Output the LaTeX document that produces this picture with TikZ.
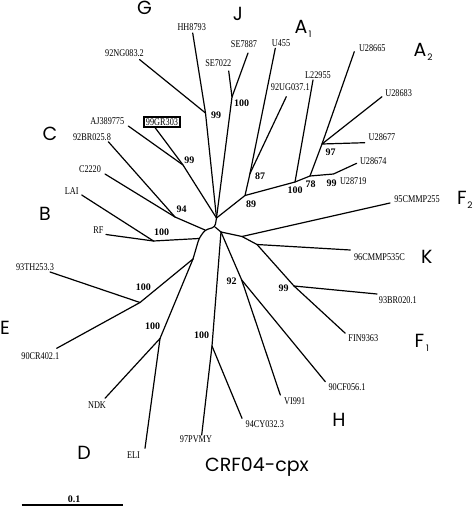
\documentclass[tikz,border=0pt]{standalone}
\usepackage{fontspec}
\setmainfont{Liberation Serif}
\newfontfamily\labfont[FakeStretch=0.8]{Liberation Serif}
\newfontfamily\cladefont{Poppins}
\begin{document}
\begin{tikzpicture}[x=1pt,y=-1pt,
  br/.style={line width=1.2pt, line cap=round, line join=round},
  leaf/.style={font=\labfont\fontsize{10.3}{10.3}\selectfont, inner sep=0pt},
  boot/.style={font=\bfseries\fontsize{10}{10}\selectfont, inner sep=0pt},
  clade/.style={font=\cladefont\fontsize{19}{19}\selectfont, inner sep=0pt},
  sub/.style={font=\cladefont\fontsize{9}{9}\selectfont, inner sep=0pt},
  boxed/.style={leaf, draw, line width=1.8pt, inner xsep=2pt, inner ysep=1.5pt}]
\useasboundingbox (0,0) rectangle (474,506);
% internal nodes
\coordinate (c1) at (216.5,218);
\coordinate (c2) at (215,227);
\coordinate (cL1) at (205,230);
\coordinate (cL2) at (199,238.5);
\coordinate (cDE) at (193,259);
\coordinate (cR) at (221,232);
\coordinate (nG) at (205.5,113);
\coordinate (nJ) at (232,97);
\coordinate (nC) at (183,165);
\coordinate (n94) at (175,217);
\coordinate (n89) at (245,195.5);
\coordinate (n87) at (250,173.5);
\coordinate (n100a) at (295,182);
\coordinate (n78) at (310,176);
\coordinate (n97) at (322,144);
\coordinate (n99a) at (333.5,174);
\coordinate (nB) at (153.5,241);
\coordinate (nE) at (140,302.5);
\coordinate (nD) at (160,338.5);
\coordinate (nH1) at (212,346);
\coordinate (nH2) at (241.7,280);
\coordinate (nF2) at (242,236.5);
\coordinate (nK) at (257,244.5);
\coordinate (nF1) at (294,286);
% tips
\coordinate (tHH) at (192.7,33);
\coordinate (tNG) at (139.5,59.5);
\coordinate (tSE87) at (248,53);
\coordinate (tSE22) at (228.7,71);
\coordinate (tAJ) at (128.3,126);
\coordinate (tGR) at (155,127.5);
\coordinate (tBR) at (108.3,141.7);
\coordinate (tC22) at (105,174);
\coordinate (tU455) at (275.3,48.3);
\coordinate (tUG) at (286.3,96.7);
\coordinate (tL22) at (313,80);
\coordinate (tU65) at (354.3,51.7);
\coordinate (tU83) at (382,96.7);
\coordinate (tU77) at (364.7,142.7);
\coordinate (tU74) at (356.7,163.3);
\coordinate (tRF) at (106,234.5);
\coordinate (tLAI) at (81.7,195);
\coordinate (tTH) at (50,272);
\coordinate (tCR) at (56.7,348.3);
\coordinate (tNDK) at (105,398.3);
\coordinate (tELI) at (145,448.3);
\coordinate (tPV) at (201.7,435);
\coordinate (tCY) at (242,418.3);
\coordinate (tVI) at (280.3,395);
\coordinate (tCF) at (325.3,381.7);
\coordinate (t95) at (390,203);
\coordinate (t96) at (350.3,250);
\coordinate (tBR2) at (377,294);
\coordinate (tFIN) at (345.3,333.3);
% branches
\draw[br, rounded corners=3pt] (c1) -- (c2) -- (cL1) -- (cL2) -- (cDE);
\draw[br] (c2) -- (cR) -- (nF2) -- (nK) -- (nF1) -- (tFIN);
\draw[br] (tHH) -- (nG) -- (c1);
\draw[br] (tNG) -- (nG);
\draw[br] (tSE87) -- (nJ) -- (c1);
\draw[br] (tSE22) -- (nJ);
\draw[br] (tGR) -- (nC) -- (c1);
\draw[br] (tAJ) -- (nC);
\draw[br] (tBR) -- (n94) -- (cL1);
\draw[br] (tC22) -- (n94);
\draw[br] (tU455) -- (n87) -- (n89) -- (c1);
\draw[br] (tUG) -- (n87);
\draw[br] (n89) -- (n100a) -- (n78) -- (n99a) -- (tU74);
\draw[br] (tL22) -- (n100a);
\draw[br] (n78) -- (n97) -- (tU65);
\draw[br] (tU83) -- (n97) -- (tU77);
\draw[br] (tLAI) -- (nB) -- (cL2);
\draw[br] (tRF) -- (nB);
\draw[br] (tTH) -- (nE) -- (cDE);
\draw[br] (tCR) -- (nE);
\draw[br] (tNDK) -- (nD) -- (cDE);
\draw[br] (tELI) -- (nD);
\draw[br] (tPV) -- (nH1) -- (cR);
\draw[br] (tCY) -- (nH1);
\draw[br] (tVI) -- (nH2) -- (cR);
\draw[br] (tCF) -- (nH2);
\draw[br] (nF2) -- (t95);
\draw[br] (nK) -- (t96);
\draw[br] (nF1) -- (tBR2);
% leaf labels
\node[leaf] (lHH) at (191.7,26.7) {HH8793};
\node[leaf] (lNG) at (124.5,53.3) {92NG083.2};
\node[leaf] (lSE22) at (218.3,63.3) {SE7022};
\node[leaf] (lSE87) at (244,44.3) {SE7887};
\node[leaf] (lU455) at (281,42.7) {U455};
\node[leaf] (lUG) at (290.3,87.3) {92UG037.1};
\node[leaf] (lL22) at (318,75) {L22955};
\node[leaf] (lU65) at (372.3,48.3) {U28665};
\node[leaf] (lU83) at (398.7,92.7) {U28683};
\node[leaf] (lU77) at (382,137.3) {U28677};
\node[leaf] (lU74) at (373.3,161) {U28674};
\node[leaf] (lU19) at (353.3,180.7) {U28719};
\node[leaf] (l95) at (417,199.3) {95CMMP255};
\node[leaf] (l96) at (379.5,256.7) {96CMMP535C};
\node[leaf] (lBR2) at (397.8,300) {93BR020.1};
\node[leaf] (lFIN) at (363.3,338.3) {FIN9363};
\node[leaf] (lCF) at (347,386.7) {90CF056.1};
\node[leaf] (lVI) at (294.7,400.7) {VI991};
\node[leaf] (lCY) at (264.8,424) {94CY032.3};
\node[leaf] (lPV) at (196,439) {97PVMY};
\node[leaf] (lELI) at (133.5,455) {ELI};
\node[leaf] (lNDK) at (97,405) {NDK};
\node[leaf] (lCR) at (40.3,356) {90CR402.1};
\node[leaf] (lTH) at (35,267.3) {93TH253.3};
\node[leaf] (lRF) at (98.3,230) {RF};
\node[leaf] (lLAI) at (71.7,190.7) {LAI};
\node[leaf] (lC22) at (90,169.3) {C2220};
\node[leaf] (lBR) at (92,136.7) {92BR025.8};
\node[leaf] (lAJ) at (107.3,120.7) {AJ389775};
\node[boxed] (lGR) at (162,121.7) {99GR303};
% bootstrap values
\node[boot] (bG) at (216,115) {99};
\node[boot] (bJ) at (241.7,103.3) {100};
\node[boot] (bC) at (189.3,160.7) {99};
\node[boot] (b87) at (260,176.7) {87};
\node[boot] (b89) at (251,204) {89};
\node[boot] (b100a) at (295,190) {100};
\node[boot] (b78) at (310.7,184) {78};
\node[boot] (b99a) at (331.7,183.3) {99};
\node[boot] (b97) at (330.7,152.3) {97};
\node[boot] (b94) at (181.7,209.3) {94};
\node[boot] (bB) at (161.7,232.3) {100};
\node[boot] (bE) at (143.3,287.7) {100};
\node[boot] (bD) at (152.7,326.7) {100};
\node[boot] (b92) at (231.7,281) {92};
\node[boot] (bF1) at (283.7,288.3) {99};
\node[boot] (bH) at (201.7,335) {100};
% clade letters
\node[clade] (kG) at (144.5,8) {G};
\node[clade] (kJ) at (238,14) {J};
\node[clade] (kA1) at (301,27) {A};
\node[sub] (kA1s) at (310,34) {1};
\node[clade] (kA2) at (420,50) {A};
\node[sub] (kA2s) at (430,57.5) {2};
\node[clade] (kC) at (50,134) {C};
\node[clade] (kB) at (45,214) {B};
\node[clade] (kE) at (5,327.5) {E};
\node[clade] (kD) at (84,453) {D};
\node[clade] (kH) at (339,420) {H};
\node[clade] (kF1) at (419.5,341) {F};
\node[sub] (kF1s) at (427.5,348.5) {1};
\node[clade] (kK) at (426.7,257.3) {K};
\node[clade] (kF2) at (462,198) {F};
\node[sub] (kF2s) at (470,205.5) {2};
\node[clade] (crf) at (257,467) {CRF04-cpx};
% scale bar
\coordinate (s0) at (21.7,504.5);
\coordinate (s1) at (123.3,504.5);
\draw[line width=2pt] (s0) -- (s1);
\node[font=\bfseries\fontsize{10}{10}\selectfont, inner sep=0pt] (sl) at (74,499) {0.1};
\end{tikzpicture}
\end{document}
